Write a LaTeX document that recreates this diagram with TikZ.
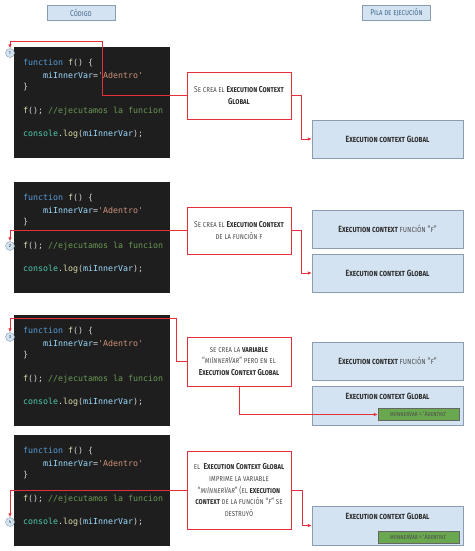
\documentclass[tikz,border=0pt]{standalone}
\usepackage{fontspec}
\newfontfamily\codefont{DejaVu Sans Mono}
\newfontfamily\notefont{Fira Sans}[FakeStretch=0.78]
\usetikzlibrary{arrows.meta}
\definecolor{code-bg}{HTML}{1E1E1E}
\definecolor{kw}{HTML}{569CD6}
\definecolor{fn}{HTML}{DCDCAA}
\definecolor{var}{HTML}{9CDCFE}
\definecolor{str}{HTML}{CE9178}
\definecolor{cmt}{HTML}{6A9955}
\definecolor{cls}{HTML}{4EC9B0}
\definecolor{punct}{HTML}{D4D4D4}
\definecolor{link-red}{HTML}{E5303C}
\definecolor{stack-bg}{HTML}{D3E3F2}
\definecolor{stack-line}{HTML}{8A9CB0}
\definecolor{var-green}{HTML}{6AA84F}
\definecolor{note-text}{HTML}{555555}
\definecolor{head-text}{HTML}{4A6D8C}

\begin{document}
\begin{tikzpicture}[x=1pt, y=-1pt,
      every node/.style={font=\fontsize{8.6}{11.6}\selectfont\notefont\scshape, inner sep=0pt},
      header/.style={draw=stack-line, fill=stack-bg, text=head-text,
        minimum width=68pt, minimum height=15pt},
      codebox/.style={fill=code-bg, anchor=north west,
        minimum width=156pt, minimum height=111pt},
      codeline/.style={anchor=west, text=punct,
        font=\fontsize{8.3}{10}\selectfont\codefont},
      stepnum/.style={circle, draw=stack-line, fill=stack-bg, minimum size=9pt,
        font=\fontsize{4.5}{4.5}\selectfont\notefont},
      note/.style={draw=link-red, line width=0.9pt, fill=white, text=note-text,
        align=center, minimum width=104pt},
      stackbox/.style={draw=stack-line, fill=stack-bg, text=black!80,
        minimum width=151pt, minimum height=38pt,
        font=\fontsize{9}{9}\selectfont\notefont\scshape},
      varbox/.style={draw=black!60, fill=var-green, text=black!70,
        minimum width=81pt, minimum height=12pt,
        font=\fontsize{6.8}{6.8}\selectfont\notefont\scshape},
      link/.style={draw=link-red, line width=0.8pt,
        -{Latex[length=4pt,width=3.5pt]}}]
    \useasboundingbox (0,0) rectangle (474,551);

    \node[header] (hcode) at (81,12.5) {Código};
    \node[header] (hstack) at (396.5,12.5) {Pila de ejecución};

    % the same code in the four panels
    \foreach \n/\ytop in {1/47, 2/182, 3/315, 4/435} {
      \node[codebox] (code\n) at (14,\ytop) {};
      \node[codeline] at (23,\ytop+16) {\textcolor{kw}{function} \textcolor{fn}{f}() \{};
      \node[codeline] at (23,\ytop+28) {\phantom{xxxx}\textcolor{var}{miInnerVar}=\textcolor{str}{\textquotesingle Adentro\textquotesingle}};
      \node[codeline] at (23,\ytop+40) {\}};
      \node[codeline] at (23,\ytop+64) {\textcolor{fn}{f}(); \textcolor{cmt}{//ejecutamos la funcion}};
      \node[codeline] at (23,\ytop+87) {\textcolor{cls}{console}.\textcolor{fn}{log}(\textcolor{var}{miInnerVar});};
    }

    \foreach \n/\y in {1/53, 2/246, 3/337, 4/522}
      \node[stepnum] (num\n) at (10,\y) {\n};

    % notes
    \node[note, minimum height=47pt] (note1) at (239,95.5)
      {Se crea el \textbf{\color{black!80}Execution Context}\\\textbf{\color{black!80}Global}};
    \node[note, minimum height=47pt] (note2) at (239,230.5)
      {Se crea el \textbf{\color{black!80}Execution Context}\\de la función f};
    \node[note, minimum height=49pt] (note3) at (239,361.5)
      {se crea la \textbf{\color{black!80}variable}\\“\textit{miInnerVar}” pero en el\\\textbf{\color{black!80}Execution Context Global}};
    \node[note, minimum height=78pt] (note4) at (239,490)
      {el \ \textbf{\color{black!80}Execution Context Global}\\imprime la variable\\“\textit{miInnerVar}” (el \textbf{\color{black!80}execution}\\\textbf{\color{black!80}context} de la función “\textit{f}” se\\destruyó};

    % stack
    \node[stackbox] (glob1) at (387.5,139) {\textbf{Execution context Global}};
    \node[stackbox] (fn2) at (387.5,229) {\textbf{Execution context} \textcolor{note-text}{función “\textit{f}”}};
    \node[stackbox] (glob2) at (387.5,273) {\textbf{Execution context Global}};
    \node[stackbox] (fn3) at (387.5,361) {\textbf{Execution context} \textcolor{note-text}{función “\textit{f}”}};
    \node[stackbox, minimum height=39pt] (glob3) at (387.5,405.5) {};
    \node[stackbox, draw=none, fill=none, minimum height=0pt] at (387.5,396) {\textbf{Execution context Global}};
    \node[varbox] (var3) at (418.5,414.5) {miInnerVar = \textquotesingle Adentro\textquotesingle};
    \node[stackbox, minimum height=39pt] (glob4) at (387.5,525.5) {};
    \node[stackbox, draw=none, fill=none, minimum height=0pt] at (387.5,516) {\textbf{Execution context Global}};
    \node[varbox] (var4) at (418.5,537) {miInnerVar = \textquotesingle Adentro\textquotesingle};

    % connectors
    \draw[link] (note1.west) -| (102,41) -| (num1.north);
    \draw[link] (note1.east) -- ++(10,0) |- (glob1.west);
    \draw[link] (note2.west) -| (num2.north);
    \draw[link] (note2.east) -- ++(10,0) |- (glob2.west);
    \draw[link] (note3.west) -| (176,318) -| (num3.north);
    \draw[link] (note3.south) |- (var3.west);
    \draw[link] (note4.west) -| (num4.north);
    \draw[link] (note4.east) -- ++(11,0) |- (glob4.west);
  \end{tikzpicture}
\end{document}
